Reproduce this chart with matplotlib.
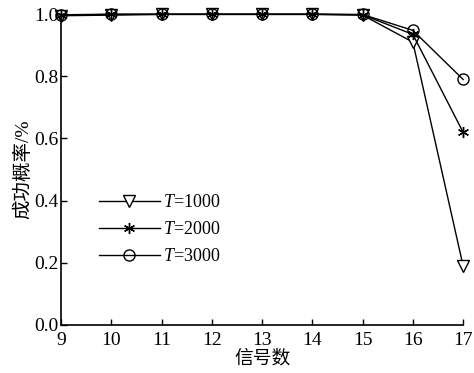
import matplotlib
matplotlib.use("Agg")
import matplotlib.pyplot as plt

plt.rcParams['font.family'] = ['Liberation Serif', 'Noto Sans CJK SC']
plt.rcParams['mathtext.fontset'] = 'custom'
plt.rcParams['mathtext.it'] = 'Liberation Serif:italic'
plt.rcParams['mathtext.rm'] = 'Liberation Serif'

signals = [9, 10, 11, 12, 13, 14, 15, 16, 17]
t1000 = [0.995, 0.997, 0.999, 0.999, 0.999, 0.999, 0.997, 0.91, 0.19]
t2000 = [0.997, 0.999, 1.0, 1.0, 1.0, 1.0, 0.998, 0.935, 0.62]
t3000 = [0.998, 1.0, 1.0, 1.0, 1.0, 1.0, 0.999, 0.948, 0.79]
labels = ['$T$=1000', '$T$=2000', '$T$=3000']

fig = plt.figure(figsize=(4.74, 3.73), dpi=100)
ax = fig.add_axes([0.129, 0.129, 0.848, 0.833])

ax.plot(signals, t1000, color='black', lw=1, marker='v', ms=8,
        mfc='white', mec='black', mew=1, label=labels[0], clip_on=False)
ax.plot(signals, t2000, color='black', lw=1, marker=(6, 2, 0), ms=8,
        mec='black', mew=1, label=labels[1], clip_on=False)
ax.plot(signals, t3000, color='black', lw=1, marker='o', ms=8,
        mfc='none', mec='black', mew=1, label=labels[2], clip_on=False)

ax.set_xlim(9, 17)
ax.set_ylim(0, 1.0)
ax.set_xticks(signals)
ax.set_yticks([0.0, 0.2, 0.4, 0.6, 0.8, 1.0])
ax.set_yticklabels(['0.0', '0.2', '0.4', '0.6', '0.8', '1.0'])
ax.tick_params(direction='in', labelsize=14, length=4, width=1)
ax.tick_params(axis='x', pad=5)
ax.tick_params(axis='y', pad=2)
ax.spines['top'].set_visible(False)
ax.spines['right'].set_visible(False)
for s in ['left', 'bottom']:
    ax.spines[s].set_linewidth(1.2)

ax.set_xlabel('信号数', fontsize=13.5)
ax.xaxis.set_label_coords(0.5, -0.08)
ax.set_ylabel('成功概率/%', fontsize=14, labelpad=1)

ax.legend(loc='upper left', bbox_to_anchor=(0.075, 0.443), frameon=False,
          fontsize=13, handlelength=3.4, handletextpad=0.15, labelspacing=0.55,
          borderaxespad=0)

fig.savefig('out.png', dpi=100)
